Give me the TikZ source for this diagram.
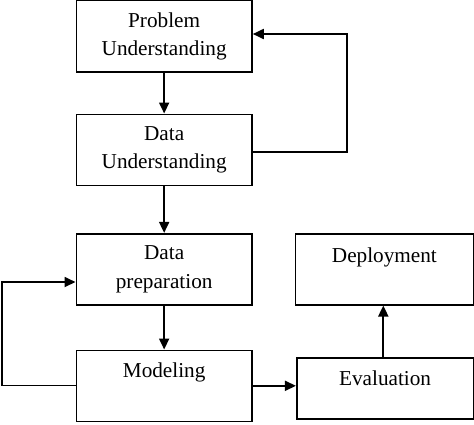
\documentclass[tikz,border=0pt]{standalone}
\usepackage{fontspec}
\setmainfont{Liberation Serif}
\usetikzlibrary{arrows.meta}
\begin{document}
\begin{tikzpicture}[x=1bp,y=-1bp,
  box/.style={draw=black, line width=1.6bp, rectangle, inner sep=0pt, align=center,
    font=\fontsize{21.3}{28.4}\selectfont},
  conn/.style={line width=1.8bp, -{Triangle[length=11bp,width=10bp]}}]
\useasboundingbox (0,0) rectangle (474,424);
\node[box, minimum width=175.7bp, minimum height=71.5bp] (pu) at (164.15,36.25) {Problem\\Understanding};
\node[box, minimum width=175.7bp, minimum height=71bp] (du) at (164.15,149.8) {Data\\Understanding};
\node[box, minimum width=175.7bp, minimum height=71bp] (dp) at (164.15,269.2) {Data\\preparation};
\node[box, minimum width=175.7bp, minimum height=71bp, text height=15bp, text depth=31.2bp] (mo) at (164.15,385.8) {Modeling};
\node[box, minimum width=178.2bp, minimum height=71bp, text height=15bp, text depth=29.4bp] (de) at (384.4,269.2) {Deployment};
\node[box, minimum width=176.8bp, minimum height=61bp, text height=15bp, text depth=20.8bp] (ev) at (385.1,388.2) {Evaluation};
\coordinate (c1) at (346.7,152.3);
\coordinate (c2) at (346.7,34);
\coordinate (c3) at (1.7,385.5);
\coordinate (c4) at (1.7,282);
\draw[conn] (pu.south) -- (du.north);
\draw[conn] (du.south) -- (dp.north);
\draw[conn] (dp.south) -- (mo.north);
\draw[conn] (du.east |- c1) -- (c1) -- (c2) -- (pu.east |- c2);
\draw[conn] (mo.west |- c3) -- (c3) -- (c4) -- (dp.west |- c4);
\draw[conn] (mo.east) -- (mo.east -| ev.west);
\draw[conn] ([xshift=-1.8bp]ev.north) -- ([xshift=-1.8bp]ev.north |- de.south);
\end{tikzpicture}
\end{document}
